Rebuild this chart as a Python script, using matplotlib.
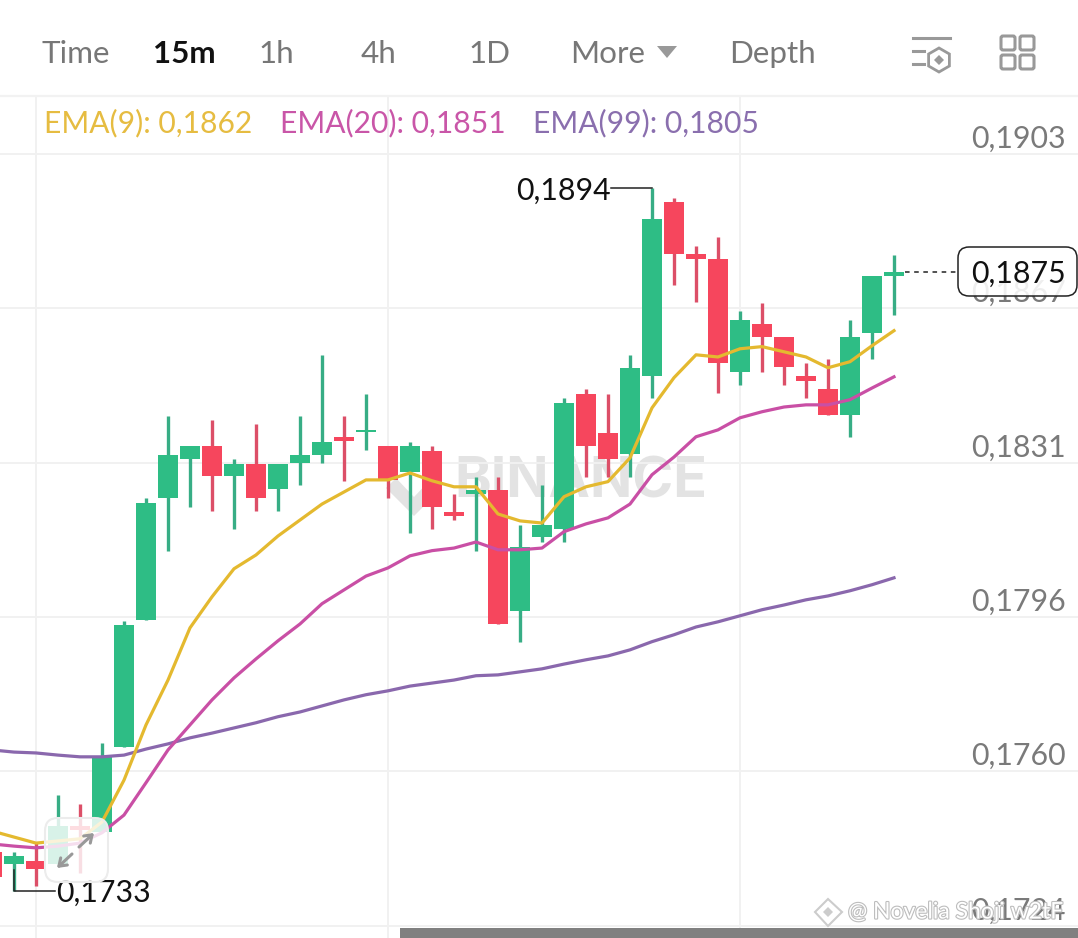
import numpy as np
import matplotlib
matplotlib.use("Agg")
import matplotlib.pyplot as plt
from matplotlib.patches import FancyBboxPatch, Polygon, Rectangle
import matplotlib.patheffects as pe

plt.rcParams['font.family'] = ['Lato', 'DejaVu Sans']

# Prices in units of 0.00001
opens = [17412,17384,17391,17384,17472,17458,17655,17950,18232,18323,18353,18283,18311,18253,18313,18332,18374,18385,18353,18293,18341,18200,18242,18251,17970,18142,18160,18473,18383,18334,18515,18919,18798,18787,18525,18636,18606,18515,18485,18425,18615,18747]
highs = [17412,17412,17432,17544,17523,17664,17947,18232,18422,18353,18413,18323,18404,18311,18422,18564,18422,18473,18353,18362,18353,18242,18281,18281,18170,18262,18464,18485,18473,18564,18951,18928,18817,18838,18666,18685,18606,18545,18555,18645,18747,18796]
lows = [17354,17321,17333,17384,17363,17458,17655,17950,18110,18211,18202,18160,18202,18202,18262,18313,18272,18344,18232,18151,18160,18181,18110,17940,17899,18130,18130,18281,18281,18281,18464,18726,18687,18476,18494,18525,18494,18464,18425,18374,18555,18657]
closes = [17354,17402,17372,17472,17463,17632,17938,18221,18332,18353,18283,18311,18232,18311,18332,18362,18364,18390,18274,18353,18211,18191,18251,17940,18119,18170,18453,18353,18323,18534,18879,18798,18787,18545,18645,18606,18536,18504,18425,18606,18747,18756]
ema9 = [17460,17446,17432,17437,17442,17481,17578,17706,17810,17931,18003,18068,18100,18144,18181,18218,18246,18274,18274,18290,18272,18258,18258,18195,18179,18174,18235,18258,18270,18325,18441,18511,18564,18559,18578,18583,18571,18559,18534,18548,18585,18620]
ema20 = [17430,17425,17421,17425,17432,17456,17497,17572,17648,17706,17764,17815,17859,17901,17940,17987,18019,18051,18070,18098,18110,18116,18130,18112,18112,18116,18154,18172,18186,18218,18286,18327,18374,18390,18418,18432,18443,18448,18448,18460,18487,18513]
ema99 = [17648,17643,17641,17636,17632,17632,17636,17650,17662,17676,17687,17699,17711,17725,17736,17750,17764,17776,17785,17796,17803,17810,17820,17822,17829,17836,17847,17857,17866,17880,17899,17915,17933,17945,17959,17973,17984,17996,18005,18017,18031,18047]
grid_prices = [19030,18673,18313,17956,17599,17240]
grid_labels = ["0,1903","0,1867","0,1831","0,1796","0,1760","0,1724"]
grid_candles = [2,18,34]
tabs = ["Time","15m","1h","4h","1D","More","Depth"]
legend_items = ["EMA(9): 0,1862","EMA(20): 0,1851","EMA(99): 0,1805"]

GREEN, RED = "#2EBD85", "#F6465D"
GRID = "#F1F1F1"
W, H = 1078, 938
S = 29 * 0.72
S_TAB = S * 1.08
S_LEG = S * 1.035
S_NUM = S * 1.045

fig = plt.figure(figsize=(W/100, H/100), dpi=100, facecolor="white")

# background layer in picture coordinates: the exchange watermark
bg = fig.add_axes([0, 0, 1, 1], zorder=0)
bg.set_xlim(0, W); bg.set_ylim(H, 0); bg.axis("off")
bg.text(454, 483, "BINANCE", fontsize=40, fontweight="bold", color="#E3E3E3", va="center", ha="left",
        family=["Inter", "DejaVu Sans"])
bg.add_patch(Polygon([(386,488),(396,478),(414,497),(432,478),(442,488),(414,516)], color="#E3E3E3", lw=0))

# chart layer
ax = fig.add_axes([0, 0, 1, (H-96)/H], zorder=1)
ax.patch.set_alpha(0)
ax.set_xlim(8/22, (W+8)/22)
ax.set_ylim(0.17212, 0.19164)
for s in ax.spines.values():
    s.set_visible(False)
ax.set_yticks(np.array(grid_prices)/1e5)
ax.set_xticks(grid_candles)
ax.tick_params(length=0, labelleft=False, labelbottom=False)
ax.grid(True, color=GRID, lw=1.4)
ax.set_axisbelow(True)

o, h, l, c = [np.array(a)/1e5 for a in (opens, highs, lows, closes)]
idx = np.arange(len(o))
up = c >= o
cols = np.where(up, GREEN, RED)
wick = np.where(up, "#37AD85", "#DC4F68")
ax.vlines(idx, l, h, colors=wick, lw=2.4, zorder=2)
ax.bar(idx, np.abs(c-o), bottom=np.minimum(o, c), width=0.87, color=cols, lw=0, zorder=3)

ax.plot(idx, np.array(ema99)/1e5, color="#8A68AD", lw=2.3, zorder=4)
ax.plot(idx, np.array(ema20)/1e5, color="#C94FA5", lw=2.3, zorder=5)
ax.plot(idx, np.array(ema9)/1e5, color="#E4B92F", lw=2.3, zorder=6)

# overlay layer in picture coordinates
ui = fig.add_axes([0, 0, 1, 1], zorder=2)
ui.patch.set_alpha(0)
ui.set_xlim(0, W); ui.set_ylim(H, 0); ui.axis("off")

# y labels
for gy, lab in zip(grid_prices, grid_labels):
    y = 96 + (0.19164 - gy/1e5) / (0.19164 - 0.17212) * (H-96)
    ui.text(1066, y-15, lab, ha="right", va="center", fontsize=S_NUM, color="#7A7A7A")

# header
ui.plot([0, W], [96, 96], color="#F2F2F2", lw=1.6)
tab_x = [42,153,258,361,468,570,729]
for t, x in zip(tabs, tab_x):
    active = t == "15m"
    ui.text(x, 54, t, ha="left", va="center", fontsize=S_TAB,
            color="#111111" if active else "#777777", fontweight="bold" if active else "normal")
ui.add_patch(Polygon([(657,46),(677,46),(667,58)], color="#999999", lw=0))

# legend
for t, x, col in zip(legend_items, [44,280,533], ["#E6BC41","#C956A8","#8A6FAE"]):
    ui.text(x, 123, t, ha="left", va="center", fontsize=S_LEG, color=col)

# filter icon
ic = "#999999"
ui.plot([913,950],[38,38], color=ic, lw=2.2)
ui.plot([913,924],[51,51], color=ic, lw=2.2)
ui.plot([913,924],[64,64], color=ic, lw=2.2)
ang = np.radians(np.arange(30, 390, 60))
ui.add_patch(Polygon(np.c_[939+12*np.cos(ang), 60+12*np.sin(ang)], fill=False, ec=ic, lw=2))
ui.add_patch(Polygon([(939,55),(944,60),(939,65),(934,60)], color=ic, lw=0))
# grid icon
for x in (1001,1020):
    for y in (36,55):
        ui.add_patch(FancyBboxPatch((x,y),14,14, boxstyle="round,pad=0,rounding_size=2", fc="none", ec=ic, lw=2.2))

# high / low annotations
ui.plot([611,652],[188,188], color="#222222", lw=1.1)
ui.text(611, 191, "0,1894", ha="right", va="center", fontsize=S_NUM, color="#111111")
ui.plot([14,14,55],[870,891,891], color="#222222", lw=1.1, zorder=1)
ui.text(56, 893, "0,1733", ha="left", va="center", fontsize=S_NUM, color="#111111")

# expand button
ui.add_patch(FancyBboxPatch((45,818),63,64, boxstyle="round,pad=0,rounding_size=13",
                            fc=(1,1,1,0.82), ec="#ECECEC", lw=1.5, zorder=5))
for a, b in (((79,847),(94,833)), ((72,854),(57,868))):
    ui.annotate("", xy=b, xytext=a, zorder=6,
                arrowprops=dict(arrowstyle="->,head_length=0.5,head_width=0.35", color="#999999", lw=2.2,
                                shrinkA=0, shrinkB=0))

# current price tag
ui.plot([905,958],[272,272], color="#222222", lw=1.1, ls=(0,(3,3)))
ui.add_patch(FancyBboxPatch((958,247),119,49, boxstyle="round,pad=0,rounding_size=11",
                            fc=(1,1,1,0.88), ec="#222222", lw=1.1, zorder=5))
ui.text(1066, 274, "0,1875", ha="right", va="center", fontsize=S_NUM, color="#111111", zorder=6)

# photo watermark and bottom bar
ui.add_patch(Polygon([(815,912),(828,899),(842,912),(828,926)], fc="white", ec="#CCCCCC", lw=1.5, zorder=7))
ui.add_patch(Polygon([(823,912),(828,907),(833,912),(828,917)], fc="#CCCCCC", lw=0, zorder=7))
ui.text(848, 912, "@ Novelia Shoji w2tF", ha="left", va="center", fontsize=16.5, color="white", zorder=7,
        path_effects=[pe.withStroke(linewidth=1.6, foreground="#BDBDBD")])
ui.add_patch(Rectangle((400,928),678,10, color="#808080", lw=0, zorder=8))

fig.savefig("out.png", dpi=100)
